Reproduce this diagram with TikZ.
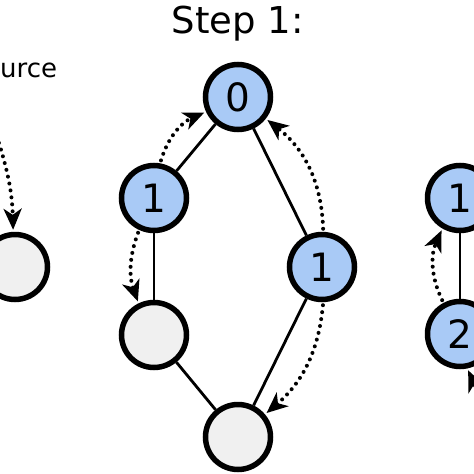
\documentclass[tikz,border=0pt]{standalone}
\usepackage{fontspec}
\setmainfont{DejaVu Sans}
\usetikzlibrary{arrows.meta}
\definecolor{nodeblue}{RGB}{169,202,246}
\definecolor{nodegray}{RGB}{240,240,240}
\tikzset{
  vert/.style={circle, draw=black, line width=5.5pt, minimum size=65pt, inner sep=0pt,
    font=\fontsize{39}{39}\selectfont},
  visited/.style={vert, fill=nodeblue},
  unvisited/.style={vert, fill=nodegray},
  edge/.style={line width=2.8pt},
  dotarrow/.style={line width=4pt, line cap=round, dash pattern=on 0pt off 7pt,
    -{Stealth[length=21pt,width=18pt,inset=6pt]}, shorten >=2pt, shorten <=3pt}
}
\begin{document}
\begin{tikzpicture}[x=1pt,y=-1pt]
\useasboundingbox (0,0) rectangle (474,474);
\clip (0,0) rectangle (474,474);
\fill[white] (0,0) rectangle (474,474);

\node[anchor=base, font=\fontsize{37}{37}\selectfont] (title) at (238,33) {Step 1:};
\node[anchor=base west, inner sep=0pt, font=\fontsize{26}{26}\selectfont] (src) at (0,77) {urce};

\node[visited] (n0) at (238,97) {0};
\node[visited] (l1) at (154,198) {1};
\node[unvisited] (le) at (154,335) {};
\node[unvisited] (bt) at (238,437) {};
\node[visited] (r1) at (322,267) {1};
\node[unvisited] (fl) at (15,267) {};
\node[visited] (fr1) at (460,198) {1};
\node[visited] (fr2) at (460,334) {2};

\coordinate (flsrc) at (-2,140);
\coordinate (frsrc) at (488,450);

\draw[edge] (n0) -- (l1);
\draw[edge] (n0) -- (r1);
\draw[edge] (l1) -- (le);
\draw[edge] (le) -- (bt);
\draw[edge] (r1) -- (bt);
\draw[edge] (fr1) -- (fr2);

\draw[dotarrow] (l1.80) to[bend left=25] (n0.205);
\draw[dotarrow] (l1.245) to[bend right=20] (le.116);
\draw[dotarrow] (r1.88) to[bend right=25] (n0.322);
\draw[dotarrow] (r1.272) to[bend left=22] (bt.40);
\draw[dotarrow] (fr2.118) to[bend left=25] (fr1.240);
\draw[dotarrow] (frsrc) to[bend right=10] (fr2.-78);
\draw[dotarrow] (flsrc) to[bend left=8] (fl.93);
\end{tikzpicture}
\end{document}
